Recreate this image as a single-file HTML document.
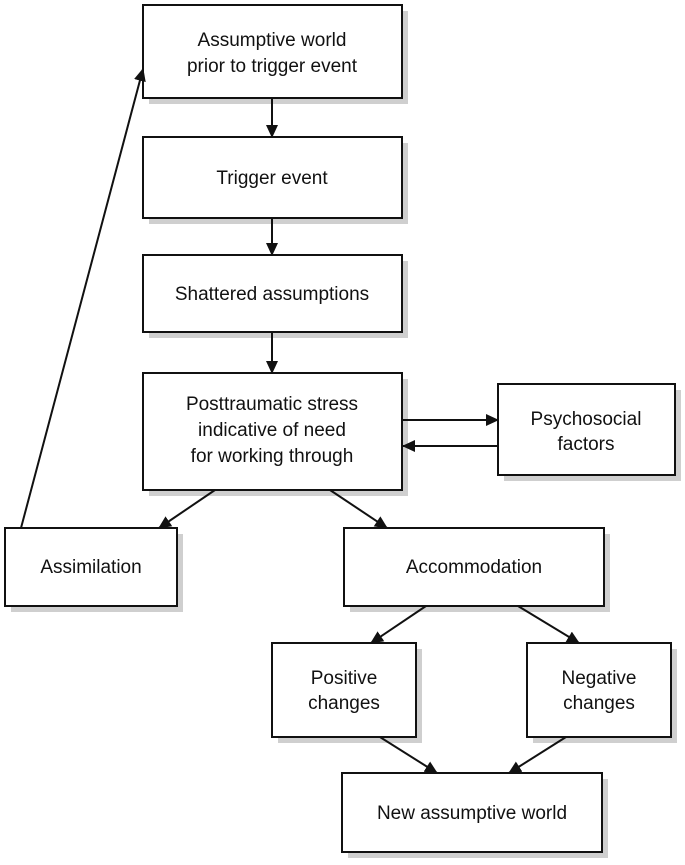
<!DOCTYPE html>
<html><head><meta charset="utf-8"><style>
html,body{margin:0;padding:0;background:#fff;}
svg{display:block;}
text{font-family:"Liberation Sans",Arial,sans-serif;font-size:19px;fill:#111;text-anchor:middle;}
</style></head><body>
<svg width="685" height="865" viewBox="0 0 685 865" xmlns="http://www.w3.org/2000/svg">
<defs>
<marker id="a" markerWidth="13" markerHeight="12" refX="12" refY="6" orient="auto" markerUnits="userSpaceOnUse">
<path d="M0,0 L13,6 L0,12 z" fill="#111"/></marker>
</defs>
<g fill="#cfcfcf">
<rect x="149" y="11" width="259" height="93"/>
<rect x="149" y="143" width="259" height="81"/>
<rect x="149" y="261" width="259" height="77"/>
<rect x="149" y="379" width="259" height="117"/>
<rect x="504" y="390" width="177" height="91"/>
<rect x="11" y="534" width="172" height="78"/>
<rect x="350" y="534" width="260" height="78"/>
<rect x="278" y="649" width="144" height="94"/>
<rect x="533" y="649" width="144" height="94"/>
<rect x="348" y="779" width="260" height="79"/>
</g>
<g fill="#fff" stroke="#111" stroke-width="2">
<rect x="143" y="5" width="259" height="93"/>
<rect x="143" y="137" width="259" height="81"/>
<rect x="143" y="255" width="259" height="77"/>
<rect x="143" y="373" width="259" height="117"/>
<rect x="498" y="384" width="177" height="91"/>
<rect x="5" y="528" width="172" height="78"/>
<rect x="344" y="528" width="260" height="78"/>
<rect x="272" y="643" width="144" height="94"/>
<rect x="527" y="643" width="144" height="94"/>
<rect x="342" y="773" width="260" height="79"/>
</g>
<g stroke="#111" stroke-width="2" marker-end="url(#a)">
<line x1="272" y1="98" x2="272" y2="137"/>
<line x1="272" y1="218" x2="272" y2="255"/>
<line x1="272" y1="332" x2="272" y2="373"/>
<line x1="403" y1="420" x2="498" y2="420"/>
<line x1="497" y1="446" x2="403" y2="446"/>
<line x1="215" y1="490" x2="159" y2="528"/>
<line x1="330" y1="490" x2="387" y2="528"/>
<line x1="21" y1="528" x2="143" y2="69"/>
<line x1="426" y1="606" x2="371" y2="643"/>
<line x1="518" y1="606" x2="579" y2="643"/>
<line x1="380" y1="737" x2="437" y2="773"/>
<line x1="566" y1="737" x2="509" y2="773"/>
</g>
<text x="272" y="46">Assumptive world</text>
<text x="272" y="72">prior to trigger event</text>
<text x="272" y="184">Trigger event</text>
<text x="272" y="300">Shattered assumptions</text>
<text x="272" y="410">Posttraumatic stress</text>
<text x="272" y="436">indicative of need</text>
<text x="272" y="462">for working through</text>
<text x="586" y="425">Psychosocial</text>
<text x="586" y="450">factors</text>
<text x="91" y="573">Assimilation</text>
<text x="474" y="573">Accommodation</text>
<text x="344" y="684">Positive</text>
<text x="344" y="709">changes</text>
<text x="599" y="684">Negative</text>
<text x="599" y="709">changes</text>
<text x="472" y="819">New assumptive world</text>
</svg>
</body></html>
